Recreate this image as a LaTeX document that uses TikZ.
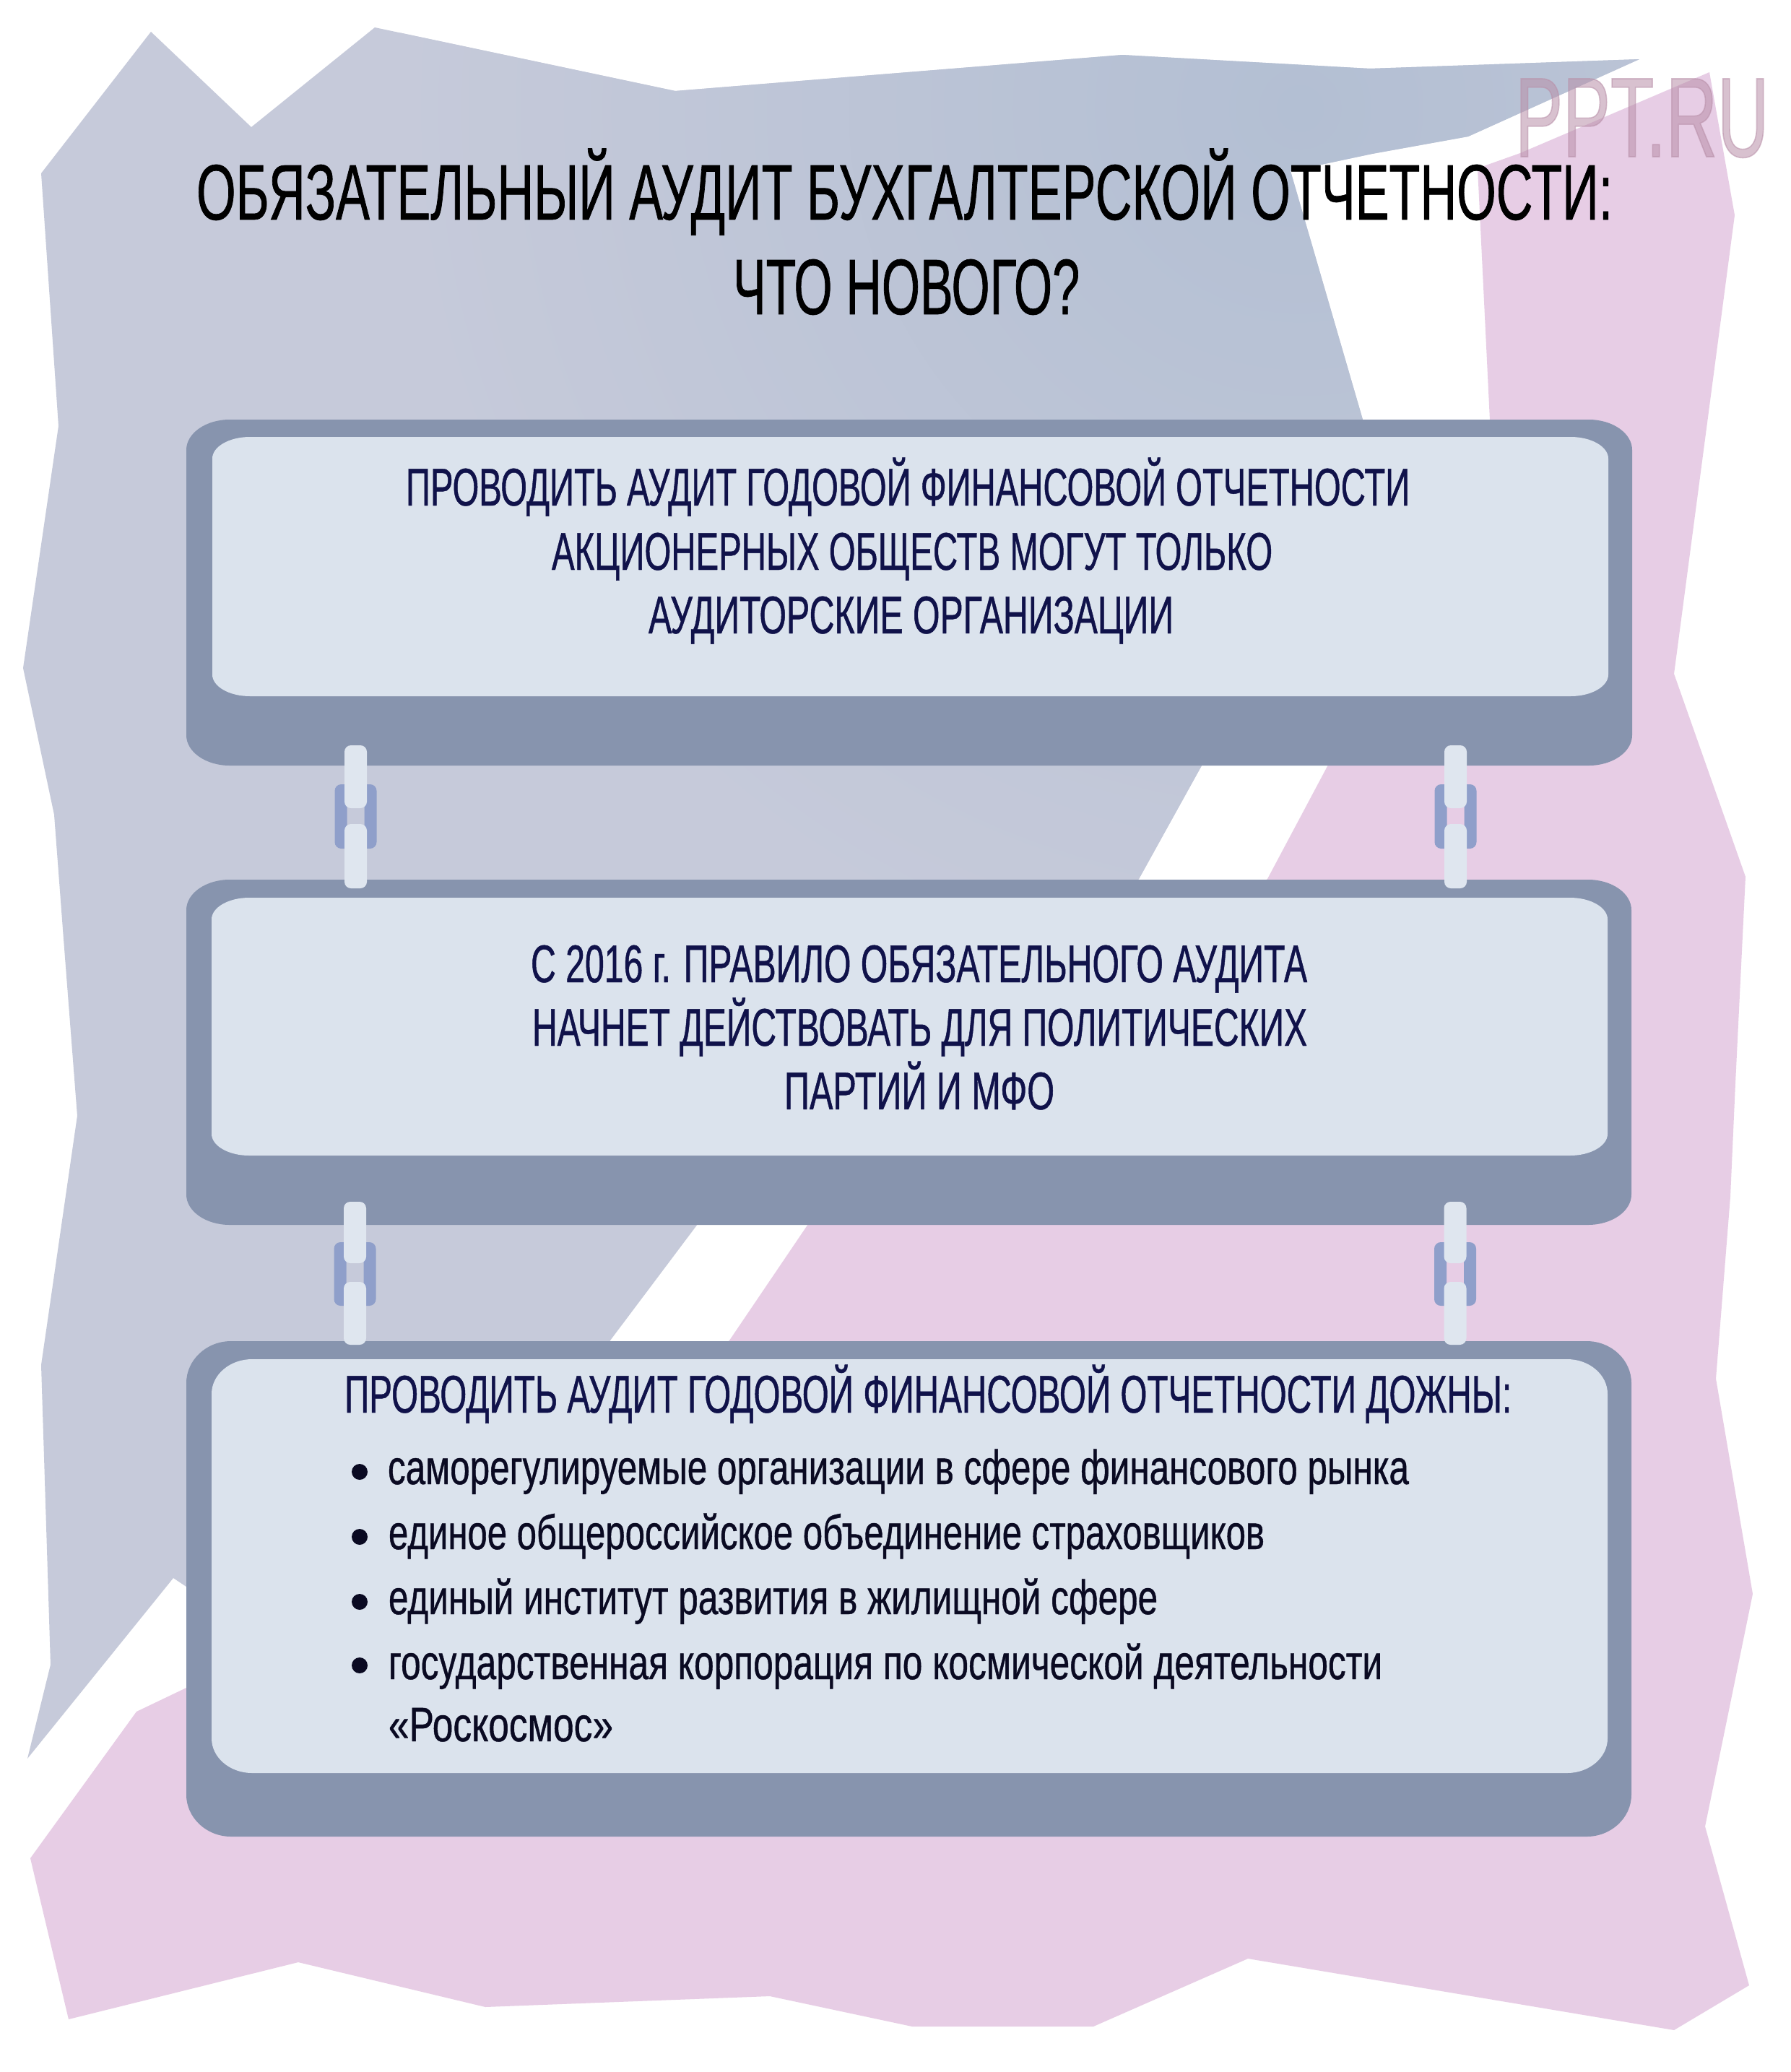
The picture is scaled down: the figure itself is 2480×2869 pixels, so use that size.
\documentclass[tikz,border=0pt]{standalone}
\usepackage{fontspec}
\usepackage{graphicx}
\setmainfont{Liberation Sans}
\newfontfamily\capsfont[FakeStretch=0.6,FakeBold=0.6]{Liberation Sans}
\newfontfamily\lowfont[FakeStretch=0.72,FakeBold=0.6]{Liberation Sans}
\newfontfamily\markfont[FakeStretch=0.6,FakeBold=1]{Liberation Sans}
\definecolor{pinkbg}{HTML}{E7CDE5}
\definecolor{graybase}{HTML}{C6CADA}
\definecolor{graytop}{HTML}{B3BFD3}
\definecolor{frameblue}{HTML}{8794AE}
\definecolor{panelblue}{HTML}{DBE3ED}
\definecolor{linkblue}{HTML}{8F9FCA}
\definecolor{linkwhite}{HTML}{DFE6EF}
\definecolor{navy}{HTML}{10124A}
\definecolor{ink}{HTML}{0A0A22}
\definecolor{wm}{HTML}{B88FA8}
\newcommand\fitw[2]{\resizebox*{#1pt}{\totalheight}{#2}}
\newcommand\ovalbox[7]{%
  \pgfmathsetmacro\ka{0.45*#5}\pgfmathsetmacro\kb{0.45*#6}%
  \fill[#7] (#1+#5,#2) -- (#3-#5,#2)
    .. controls (#3-\ka,#2) and (#3,#2+\kb) .. (#3,#2+#6)
    -- (#3,#4-#6)
    .. controls (#3,#4-\kb) and (#3-\ka,#4) .. (#3-#5,#4)
    -- (#1+#5,#4)
    .. controls (#1+\ka,#4) and (#1,#4-\kb) .. (#1,#4-#6)
    -- (#1,#2+#6)
    .. controls (#1,#2+\kb) and (#1+\ka,#2) .. (#1+#5,#2) -- cycle;}
% a pair of chain links: centre x, upper top, upper bottom, lower top, lower bottom, frame top, frame bottom
\newcommand\chainlink[7]{%
  \fill[linkblue,even odd rule]
    [rounded corners=9pt] (#1-29,#6) rectangle (#1+29,#7)
    [sharp corners] (#1-12,#6+14) rectangle (#1+12,#7-14);
  \fill[linkwhite,rounded corners=9pt] (#1-15.5,#2) rectangle (#1+15.5,#3);
  \fill[linkwhite,rounded corners=9pt] (#1-15.5,#4) rectangle (#1+15.5,#5);}
\tikzset{
  capsline/.style={anchor=base west,inner sep=0pt,outer sep=0pt,text=navy,font=\capsfont\fontsize{73.5}{88}\selectfont},
  titleline/.style={anchor=base west,inner sep=0pt,outer sep=0pt,text=black,font=\capsfont\fontsize{109}{131}\selectfont},
  listline/.style={anchor=base west,inner sep=0pt,outer sep=0pt,text=ink,font=\lowfont\fontsize{67}{88}\selectfont},
  bulletdot/.style={circle,fill=ink,inner sep=0pt,minimum size=22pt},
}
\begin{document}
\begin{tikzpicture}[x=1pt,y=-1pt]
\useasboundingbox (0,0) rectangle (2480,2869);
\fill[white] (0,0) rectangle (2480,2869);
% pink background
\fill[pinkbg] (2046,233) -- (2063,582) -- (1838,1061) -- (1755,1217) -- (1119,1695) -- (1010,1856)
  -- (500,2300) -- (258,2337) -- (189,2370) -- (42,2573) -- (95,2796) -- (413,2717) -- (672,2779)
  -- (1066,2764) -- (1263,2806) -- (1514,2806) -- (1728,2712) -- (2318,2811) -- (2422,2749)
  -- (2361,2529) -- (2427,2207) -- (2376,1909) -- (2396,1657) -- (2403,1500) -- (2417,1214)
  -- (2318,933) -- (2402,298) -- (2367,100) -- (2105,212) -- cycle;
% grey-blue background
\begin{scope}
\clip (57,240) -- (209,44) -- (348,176) -- (519,38) -- (935,126)
  -- (1554,76) -- (1897,95) -- (2270,82) -- (2033,189) -- (1900,213) -- (1787,237) -- (1887,581)
  -- (1664,1060) -- (1577,1217) -- (966,1695) -- (845,1856) -- (700,2230) -- (258,2197) -- (240,2185)
  -- (38,2435) -- (70,2305) -- (57,1890) -- (107,1545) -- (88,1300) -- (75,1128) -- (32,925)
  -- (81,590) -- cycle;
\fill[graybase] (0,0) rectangle (2480,2500);
\shade[inner color=graytop,outer color=graybase] (1800,150) circle[radius=1250];
\end{scope}
% watermark
\node[anchor=base west,inner sep=0pt,text=wm,text opacity=0.55,font=\markfont\fontsize{157}{170}\selectfont] (mark) at (2098,217) {\fitw{351}{PPT.RU}};
% title
\node[titleline] (title1) at (272,304) {\fitw{1961}{ОБЯЗАТЕЛЬНЫЙ АУДИТ БУХГАЛТЕРСКОЙ ОТЧЕТНОСТИ:}};
\node[titleline] (title2) at (1015,435) {\fitw{480}{ЧТО НОВОГО?}};
% panels
\ovalbox{258}{581}{2260}{1060}{60}{42}{frameblue}
\ovalbox{294}{605}{2227}{964}{52}{30}{panelblue}
\ovalbox{258}{1218}{2259}{1696}{60}{42}{frameblue}
\ovalbox{293}{1243}{2226}{1600}{52}{30}{panelblue}
\ovalbox{258}{1857}{2259}{2543}{62}{58}{frameblue}
\ovalbox{293}{1882}{2226}{2455}{56}{48}{panelblue}
% chain links
\chainlink{492.5}{1032}{1119}{1141}{1230}{1086}{1175}
\chainlink{2015.5}{1032}{1119}{1141}{1230}{1086}{1175}
\chainlink{491.5}{1664}{1749}{1775}{1862}{1720}{1808}
\chainlink{2015}{1664}{1749}{1775}{1862}{1720}{1808}
% panel 1
\node[capsline] (a1) at (562,700) {\fitw{1390}{ПРОВОДИТЬ АУДИТ ГОДОВОЙ ФИНАНСОВОЙ ОТЧЕТНОСТИ}};
\node[capsline] (a2) at (764,789) {\fitw{998}{АКЦИОНЕРНЫХ ОБЩЕСТВ МОГУТ ТОЛЬКО}};
\node[capsline] (a3) at (898,877) {\fitw{727}{АУДИТОРСКИЕ ОРГАНИЗАЦИИ}};
% panel 2
\node[capsline] (b1) at (735,1360) {\fitw{1075}{С 2016 г. ПРАВИЛО ОБЯЗАТЕЛЬНОГО АУДИТА}};
\node[capsline] (b2) at (737,1448) {\fitw{1073}{НАЧНЕТ ДЕЙСТВОВАТЬ ДЛЯ ПОЛИТИЧЕСКИХ}};
\node[capsline] (b3) at (1086,1536) {\fitw{374}{ПАРТИЙ И МФО}};
% panel 3
\node[capsline] (c0) at (477,1956) {\fitw{1616}{ПРОВОДИТЬ АУДИТ ГОДОВОЙ ФИНАНСОВОЙ ОТЧЕТНОСТИ ДОЖНЫ:}};
\node[bulletdot] (d1) at (498,2038) {};
\node[bulletdot] (d2) at (498,2128) {};
\node[bulletdot] (d3) at (498,2218) {};
\node[bulletdot] (d4) at (498,2306) {};
\node[listline] (c1) at (537,2055) {\fitw{1414}{саморегулируемые организации в сфере финансового рынка}};
\node[listline] (c2) at (538,2145) {\fitw{1213}{единое общероссийское объединение страховщиков}};
\node[listline] (c3) at (538,2235) {\fitw{1065}{единый институт развития в жилищной сфере}};
\node[listline] (c4) at (538,2325) {\fitw{1376}{государственная корпорация по космической деятельности}};
\node[listline] (c5) at (538,2411) {\fitw{311}{«Роскосмос»}};
\end{tikzpicture}
\end{document}
